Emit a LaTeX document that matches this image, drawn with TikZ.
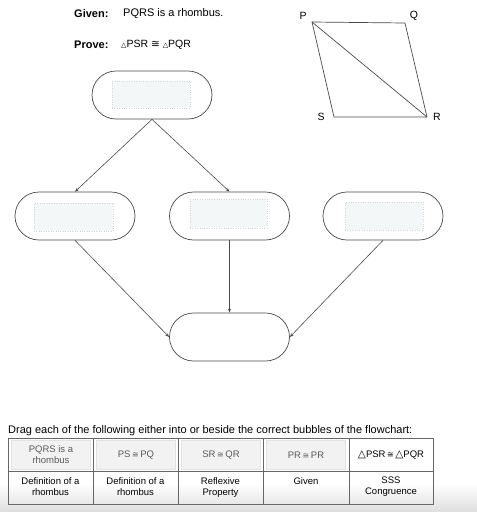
\documentclass[tikz,border=0pt]{standalone}
\usepackage{fontspec}
\setmainfont{Liberation Sans}
\newfontfamily\symfont{DejaVu Sans}
\usetikzlibrary{arrows.meta}
\definecolor{linegray}{HTML}{4A4A4A}
\definecolor{slotfill}{HTML}{F4F7F8}
\definecolor{slotline}{HTML}{D6D6D6}
\definecolor{tilefill}{HTML}{F2F2F2}
\definecolor{tileline}{HTML}{E2E2E2}
\definecolor{tiletext}{HTML}{5A5A5A}
\definecolor{tabline}{HTML}{666666}
\newcommand{\smtri}{{\symfont\fontsize{7}{7}\selectfont △}}
\newcommand{\bgtri}{{\symfont\fontsize{10.5}{10}\selectfont △}}
\newcommand{\congsym}{{\symfont ≅}}
\newcommand{\smcong}{{\symfont\fontsize{8}{8}\selectfont ≅}}
\begin{document}
\begin{tikzpicture}[x=1pt,y=-1pt,
  font=\fontsize{9.5}{11}\selectfont,
  bubble/.style={draw=linegray,fill=white,line width=0.7pt,rounded corners=24pt,minimum width=120pt,minimum height=48pt,inner sep=0pt},
  slot/.style={draw=slotline,dotted,fill=slotfill,line width=0.4pt,inner sep=0pt},
  conn/.style={draw=linegray,line width=0.6pt,-{Stealth[length=4pt,width=3pt]}},
  tile/.style={draw=tileline,fill=tilefill,line width=0.4pt,minimum width=79pt,minimum height=29pt,inner sep=0pt,text=tiletext,align=center},
  celltext/.style={anchor=north,align=center,inner sep=0pt,text=black},
  lbl/.style={inner sep=0pt,font=\fontsize{10.5}{12}\selectfont}]
\useasboundingbox (0,0) rectangle (477,512);
% bottom shadow
\fill[top color=white,bottom color=black!13] (0,484) rectangle (477,512);
% header texts
\node[anchor=west,inner sep=0pt,font=\fontsize{11}{13}\selectfont\bfseries] (given) at (74,14) {Given:};
\node[anchor=west,inner sep=0pt,font=\fontsize{11}{13}\selectfont] (giventext) at (123,14) {PQRS is a rhombus.};
\node[anchor=west,inner sep=0pt,font=\fontsize{11}{13}\selectfont\bfseries] (prove) at (74,45) {Prove:};
\node[anchor=west,inner sep=0pt,font=\fontsize{10.5}{13}\selectfont] (provetext) at (121,45) {\smtri PSR \congsym\ \smtri PQR};
% rhombus
\coordinate (P) at (312,22);
\coordinate (Q) at (405,23);
\coordinate (R) at (427,117);
\coordinate (S) at (334,117);
\draw[linegray,line width=0.7pt] (P) -- (Q) -- (R) -- (S) -- cycle;
\draw[linegray,line width=0.7pt] (P) -- (R);
\node[lbl] (Plbl) at (303,16) {P};
\node[lbl] (Qlbl) at (414,16) {Q};
\node[lbl] (Slbl) at (321,117) {S};
\node[lbl] (Rlbl) at (437,117) {R};
% flowchart bubbles
\node[bubble] (top) at (152,95) {};
\node[bubble] (left) at (75,216) {};
\node[bubble] (mid) at (229.5,216) {};
\node[bubble] (right) at (383,216) {};
\node[bubble] (bottom) at (229.5,337) {};
% slots
\node[slot,minimum width=78pt,minimum height=27pt] (topslot) at (151,94.5) {};
\node[slot,minimum width=79pt,minimum height=28pt] (leftslot) at (73.5,217) {};
\node[slot,minimum width=77pt,minimum height=29pt] (midslot) at (228.5,213.5) {};
\node[slot,minimum width=78pt,minimum height=28pt] (rightslot) at (384,216) {};
% connectors
\draw[conn] (top.south) -- (left.north);
\draw[conn] (top.south) -- (mid.north);
\draw[conn] (left.south) -- (bottom.west);
\draw[conn] (mid.south) -- (bottom.north);
\draw[conn] (right.south) -- (bottom.east);
% instruction
\node[anchor=west,inner sep=0pt,font=\fontsize{11}{13}\selectfont] (drag) at (8,431) {Drag each of the following either into or beside the correct bubbles of the flowchart:};
% table
\draw[tabline,line width=0.6pt] (8,438) rectangle (433,504);
\draw[tabline,line width=0.6pt] (8,471) -- (433,471);
\foreach \cx in {93,178,263,349}{
  \draw[tabline,line width=0.6pt] (\cx,438) -- (\cx,504);
}
\node[tile] (t1) at (51,455) {PQRS is a\\rhombus};
\node[tile] (t2) at (136,455) {PS\,\smcong\,PQ};
\node[tile] (t3) at (221,455) {SR\,\smcong\,QR};
\node[tile] (t4) at (306,455) {PR\,\smcong\,PR};
\node[inner sep=0pt,text=black] (t5) at (391,455) {\bgtri PSR\,\smcong\,\bgtri PQR};
\node[celltext] (r1) at (50.5,477) {Definition of a\\rhombus};
\node[celltext] (r2) at (135.5,477) {Definition of a\\rhombus};
\node[celltext] (r3) at (220.5,477) {Reflexive\\Property};
\node[celltext] (r4) at (306,477) {Given};
\node[celltext] (r5) at (391,477) {SSS\\Congruence};
\end{tikzpicture}
\end{document}
